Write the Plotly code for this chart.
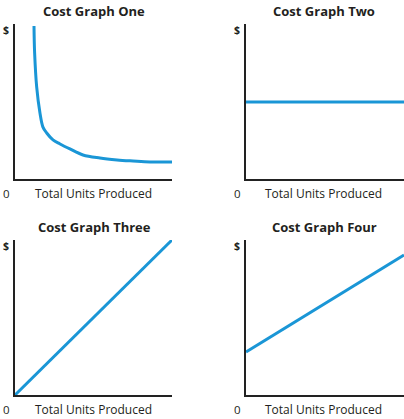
import plotly.graph_objects as go

W, H = 404, 419

# data (both axes run 0..100)
one_x = [12.1, 12.5, 13.8, 15.9, 17.8, 20.2, 24.2, 28.7, 35.0, 43.3, 54.1, 65.0, 75.2, 86.0, 100]
one_y = [98.7, 81.3, 59.4, 42.6, 33.5, 29.7, 25.2, 22.6, 19.4, 15.5, 13.5, 12.3, 11.6, 11.0, 11.0]
two_x = [0, 100]
two_y = [49.7, 49.7]
three_x = [0, 100]
three_y = [0, 100]
four_x = [0, 100]
four_y = [27.7, 90.3]

titles = ["Cost Graph One", "Cost Graph Two", "Cost Graph Three", "Cost Graph Four"]
x_label = "Total Units Produced"

blue = "#1a96d6"
font_main = "'Open Sans', 'Noto Sans', sans-serif"

# panel boxes in pixels: left, right, top, bottom
boxes = [(15, 172, 24, 179), (246, 404, 24, 179), (15, 172, 240, 395), (246, 404, 240, 395)]
series = [(one_x, one_y), (two_x, two_y), (three_x, three_y), (four_x, four_y)]

fig = go.Figure()
annotations = []
for i, ((l, r, t, b), (xs, ys), title) in enumerate(zip(boxes, series, titles), start=1):
    sfx = "" if i == 1 else str(i)
    fig.add_trace(go.Scatter(
        x=xs, y=ys, mode="lines", xaxis="x" + sfx, yaxis="y" + sfx,
        line=dict(color=blue, width=3, shape="spline" if i == 1 else "linear"),
        showlegend=False, hoverinfo="skip"))
    axis_common = dict(showgrid=False, zeroline=False, showticklabels=False, ticks="",
                       showline=True, linecolor="#222", linewidth=1.5, range=[0, 100], fixedrange=True)
    fig.update_layout(**{
        "xaxis" + sfx: dict(domain=[l / W, r / W], anchor="y" + sfx, **axis_common),
        "yaxis" + sfx: dict(domain=[1 - b / H, 1 - t / H], anchor="x" + sfx, **axis_common),
    })
    cx = (l + 79) if i in (1, 3) else (l + 78)
    annotations.append(dict(text="<b>" + title + "</b>", x=cx / W, y=1 - (t - 13) / H,
                            font=dict(size=13)))
    annotations.append(dict(text="<b>$</b>", x=(l - 9) / W, y=1 - (t + 6) / H, font=dict(size=10.5)))
    annotations.append(dict(text="0", x=(l - 9) / W, y=1 - (b + 14) / H, font=dict(size=11.5)))
    annotations.append(dict(text=x_label, x=((l + 78) if i in (1, 3) else (l + 77)) / W,
                            y=1 - (b + 14) / H, font=dict(size=12)))

for a in annotations:
    a.update(xref="paper", yref="paper", showarrow=False, xanchor="center", yanchor="middle")

fig.update_layout(
    width=W, height=H,
    margin=dict(l=0, r=0, t=0, b=0),
    paper_bgcolor="white", plot_bgcolor="white",
    font=dict(family=font_main, color="#231f20"),
    annotations=annotations,
)

fig.write_html("out.html", config={"displayModeBar": False},
               post_script="document.body.style.margin='0';")
